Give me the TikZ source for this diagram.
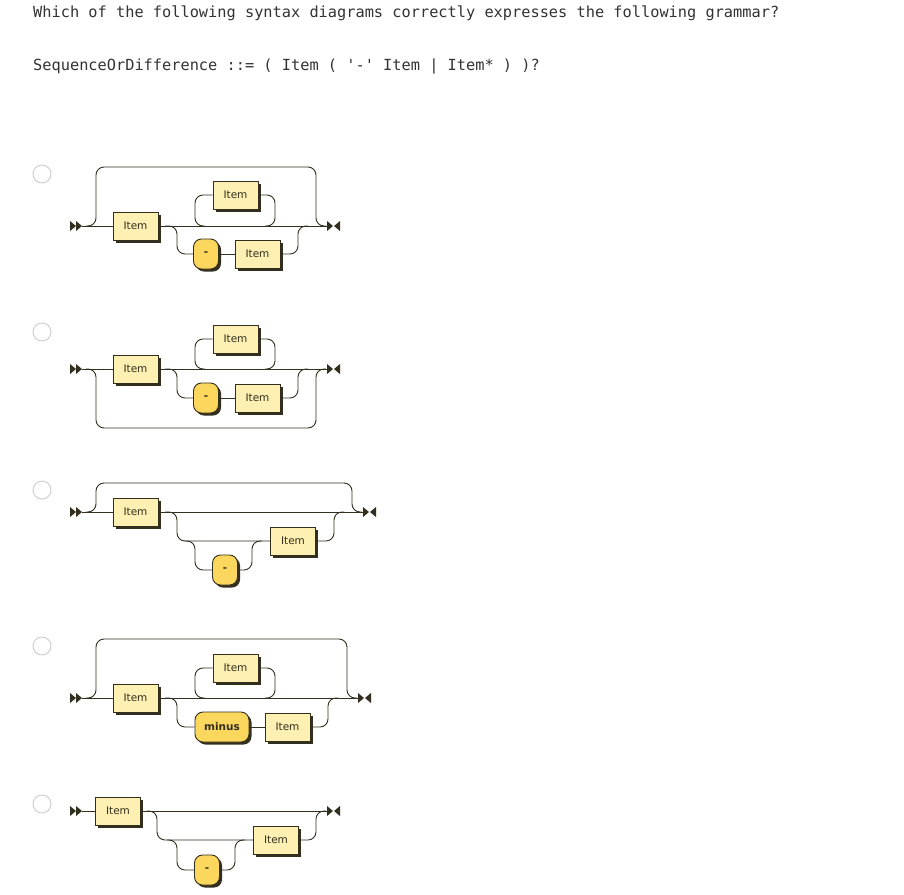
\documentclass[tikz,border=0pt]{standalone}
\usepackage{fontspec}
\setmainfont{DejaVu Sans}
\newfontfamily\monof{DejaVu Sans Mono}
\usetikzlibrary{shadows}
\definecolor{lnc}{HTML}{332F1E}
\definecolor{ntfill}{HTML}{FEF0B2}
\definecolor{tfill}{HTML}{FCD75E}
\definecolor{radio}{HTML}{C8C8C8}
\definecolor{txt}{HTML}{333333}
\tikzset{
  ln/.style={draw=lnc,line width=0.9pt},
  rr/.style={rounded corners=8pt},
  sh/.style={drop shadow={shadow xshift=2.5pt,shadow yshift=-2.5pt,fill=lnc,opacity=1}},
  nt/.style={ln,fill=ntfill,sh,minimum width=45pt,minimum height=28pt,inner sep=0pt,font=\fontsize{10.5}{12}\selectfont,text=lnc},
  tm/.style={ln,fill=tfill,sh,rounded corners=8pt,minimum width=25pt,minimum height=30pt,inner sep=0pt,font=\bfseries\fontsize{10.5}{12}\selectfont,text=lnc},
  rad/.style={draw=radio,line width=0.8pt,fill=white},
  arr/.style={fill=lnc,draw=none},
  qtxt/.style={anchor=west,text=txt,inner sep=0pt,font=\monof\fontsize{15.3}{18}\selectfont}
}
\newcommand{\rrstart}[2]{\fill[arr] (#1,#2-5) -- (#1+6,#2) -- (#1,#2+5) -- cycle; \fill[arr] (#1+6,#2-5) -- (#1+12,#2) -- (#1+6,#2+5) -- cycle;}
\newcommand{\rrfinish}[2]{\fill[arr] (#1,#2-5) -- (#1+6,#2) -- (#1,#2+5) -- cycle; \fill[arr] (#1+13,#2-5) -- (#1+7,#2) -- (#1+13,#2+5) -- cycle;}
\begin{document}
\begin{tikzpicture}[x=1pt,y=-1pt]
\useasboundingbox[fill=white] (0,0) rectangle (904,894);
\node[qtxt] (q) at (33,13) {Which of the following syntax diagrams correctly expresses the following grammar?};
\node[qtxt] (g) at (33,66) {SequenceOrDifference ::= ( Item ( '-' Item | Item* ) )?};
\foreach \yy/\nm in {174/r1,332/r2,490/r3,646/r4,804/r5} \draw[rad] (42,\yy) circle (9) coordinate (\nm);

% ---- diagram 1
\node[nt] (a1) at (135.5,226) {Item};
\node[nt] (a2) at (235.5,195) {Item};
\node[tm] (am) at (206,254) {-};
\node[nt] (a3) at (257.5,254) {Item};
\draw[ln] (82,226) -- (a1.west); \draw[ln] (a1.east) -- (327,226);
\draw[ln,rr] (86,226) -| (96,167) -| (316,226) -- (326,226);
\draw[ln,rr] (205,226) -| (195,195) -- (a2.west); \draw[ln,rr] (a2.east) -| (275,226) -- (265,226);
\draw[ln,rr] (165,226) -| (177,254) -- (am.west); \draw[ln] (am.east) -- (a3.west); \draw[ln,rr] (a3.east) -| (298,226) -- (308,226);
\rrstart{70}{226} \rrfinish{327}{226}

% ---- diagram 2
\node[nt] (b1) at (135.5,369) {Item};
\node[nt] (b2) at (235.5,339) {Item};
\node[tm] (bm) at (206,398) {-};
\node[nt] (b3) at (257.5,398) {Item};
\draw[ln] (82,369) -- (b1.west); \draw[ln] (b1.east) -- (327,369);
\draw[ln,rr] (86,369) -| (96,428) -| (316,369) -- (326,369);
\draw[ln,rr] (205,369) -| (195,339) -- (b2.west); \draw[ln,rr] (b2.east) -| (275,369) -- (265,369);
\draw[ln,rr] (165,369) -| (177,398) -- (bm.west); \draw[ln] (bm.east) -- (b3.west); \draw[ln,rr] (b3.east) -| (298,369) -- (308,369);
\rrstart{70}{369} \rrfinish{327}{369}

% ---- diagram 3
\node[nt] (c1) at (135.5,512) {Item};
\node[nt] (c2) at (293,541) {Item};
\node[tm] (cm) at (225,570) {-};
\draw[ln] (82,512) -- (c1.west); \draw[ln] (c1.east) -- (363,512);
\draw[ln,rr] (86,512) -| (96,483) -| (352,512) -- (362,512);
\draw[ln,rr] (165,512) -| (177,541) -- (c2.west); \draw[ln,rr] (c2.east) -| (334,512) -- (344,512);
\draw[ln,rr] (185,541) -| (195,570) -- (cm.west); \draw[ln,rr] (cm.east) -| (252,541) -- (262,541);
\rrstart{70}{512} \rrfinish{363}{512}

% ---- diagram 4
\node[nt] (d1) at (135.5,698) {Item};
\node[nt] (d2) at (235.5,668) {Item};
\node[tm,minimum width=54pt] (dm) at (222,727) {minus};
\node[nt] (d3) at (287.5,727) {Item};
\draw[ln] (82,698) -- (d1.west); \draw[ln] (d1.east) -- (358,698);
\draw[ln,rr] (86,698) -| (96,639) -| (347,698) -- (357,698);
\draw[ln,rr] (205,698) -| (195,668) -- (d2.west); \draw[ln,rr] (d2.east) -| (275,698) -- (265,698);
\draw[ln,rr] (165,698) -| (177,727) -- (dm.west); \draw[ln] (dm.east) -- (d3.west); \draw[ln,rr] (d3.east) -| (328,698) -- (338,698);
\rrstart{70}{698} \rrfinish{358}{698}

% ---- diagram 5
\node[nt] (e1) at (118,811) {Item};
\node[nt] (e2) at (276,840) {Item};
\node[tm] (em) at (207,870) {-};
\draw[ln] (82,811) -- (e1.west); \draw[ln] (e1.east) -- (327,811);
\draw[ln,rr] (147,811) -| (157,840) -- (e2.west); \draw[ln,rr] (e2.east) -| (316,811) -- (326,811);
\draw[ln,rr] (167,840) -| (177,870) -- (em.west); \draw[ln,rr] (em.east) -| (235,840) -- (245,840);
\rrstart{70}{811} \rrfinish{327}{811}
\end{tikzpicture}
\end{document}
